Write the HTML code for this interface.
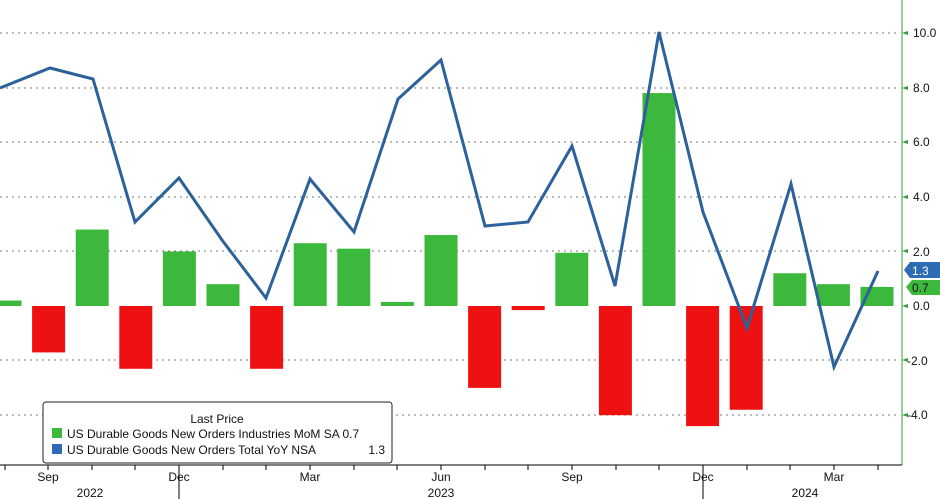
<!DOCTYPE html>
<html><head><style>
body{margin:0;background:#fff;}
svg{display:block;font-family:"Liberation Sans",sans-serif;}
</style></head><body>
<svg width="940" height="499" viewBox="0 0 940 499">
<g stroke="#777" stroke-dasharray="2,4" stroke-width="1">
<line x1="0" x2="900" y1="33" y2="33"/><line x1="0" x2="900" y1="88" y2="88"/>
<line x1="0" x2="900" y1="142" y2="142"/><line x1="0" x2="900" y1="197" y2="197"/>
<line x1="0" x2="900" y1="251" y2="251"/><line x1="0" x2="900" y1="360" y2="360"/>
<line x1="0" x2="900" y1="415" y2="415"/>
</g>
<g id="bars"></g>
<polyline fill="none" stroke="#2d6199" stroke-width="3" stroke-linejoin="miter" points="0,88 50,68 93,79 135,222 179,178 222,240 266,298 310,179 354,232 398,99 441,60 485,226 528,222 572,146 615,286 659,32 703,212 747,328 791,184 834,367 878,271"/>
<line x1="902" y1="0" x2="902" y2="465" stroke="#3a9a3a" stroke-width="1"/>
<line x1="0" y1="465" x2="902" y2="465" stroke="#000" stroke-width="1"/>
<g font-size="12" fill="#111">
<text x="913" y="37">10.0</text><text x="913" y="92">8.0</text><text x="913" y="146">6.0</text>
<text x="913" y="201">4.0</text><text x="913" y="256">2.0</text><text x="913" y="310">0.0</text>
<text x="907" y="365">-2.0</text><text x="907" y="419">-4.0</text>
</g>
<g fill="#3a9a3a">
<polygon points="902,33 908,31 908,35"/><polygon points="902,88 908,86 908,90"/><polygon points="902,142 908,140 908,144"/>
<polygon points="902,197 908,195 908,199"/><polygon points="902,251 908,249 908,253"/><polygon points="902,306 908,304 908,308"/>
<polygon points="902,360 908,358 908,362"/><polygon points="902,415 908,413 908,417"/>
</g>
<polygon points="904,270 910,262 940,262 940,278 910,278" fill="#2d6bb5"/>
<text x="912" y="275" font-size="12" fill="#fff">1.3</text>
<polygon points="906,287 912,280 940,280 940,295 912,295" fill="#3cb93c"/>
<text x="912" y="292" font-size="12" fill="#111">0.7</text>
<g stroke="#000">
<line x1="5" y1="465" x2="5" y2="470"/><line x1="48" y1="465" x2="48" y2="470"/><line x1="92" y1="465" x2="92" y2="470"/>
<line x1="135" y1="465" x2="135" y2="470"/><line x1="179" y1="465" x2="179" y2="499"/><line x1="223" y1="465" x2="223" y2="470"/>
<line x1="266" y1="465" x2="266" y2="470"/><line x1="310" y1="465" x2="310" y2="470"/><line x1="354" y1="465" x2="354" y2="470"/>
<line x1="397" y1="465" x2="397" y2="470"/><line x1="441" y1="465" x2="441" y2="470"/><line x1="485" y1="465" x2="485" y2="470"/>
<line x1="528" y1="465" x2="528" y2="470"/><line x1="572" y1="465" x2="572" y2="470"/><line x1="616" y1="465" x2="616" y2="470"/>
<line x1="659" y1="465" x2="659" y2="470"/><line x1="703" y1="465" x2="703" y2="499"/><line x1="747" y1="465" x2="747" y2="470"/>
<line x1="790" y1="465" x2="790" y2="470"/><line x1="834" y1="465" x2="834" y2="470"/><line x1="878" y1="465" x2="878" y2="470"/>
</g>
<g font-size="12" fill="#111" text-anchor="middle">
<text x="48" y="481">Sep</text><text x="179" y="481">Dec</text><text x="310" y="481">Mar</text><text x="441" y="481">Jun</text>
<text x="572" y="481">Sep</text><text x="703" y="481">Dec</text><text x="834" y="481">Mar</text>
<text x="90" y="497">2022</text><text x="441" y="497">2023</text><text x="805" y="497">2024</text>
</g>
<rect x="43" y="402" width="349" height="61" rx="3" fill="#fff" stroke="#222"/>
<text x="217" y="423" font-size="12" text-anchor="middle" fill="#111">Last Price</text>
<rect x="52" y="428" width="10" height="10" fill="#3cb93c"/>
<rect x="52" y="444" width="10" height="10" fill="#2d6bb5"/>
<text x="67" y="438" font-size="12" fill="#111">US Durable Goods New Orders Industries MoM SA 0.7</text>
<text x="67" y="454" font-size="12" fill="#111">US Durable Goods New Orders Total YoY NSA</text>
<text x="385" y="454" font-size="12" fill="#111" text-anchor="end">1.3</text>
</svg>
<script>
var v=[0.2,-1.7,2.8,-2.3,2.0,0.8,-2.3,2.3,2.1,0.15,2.6,-3.0,-0.15,1.95,-4.0,7.8,-4.4,-3.8,1.2,0.8,0.7];
var g=document.getElementById('bars'),s='';
for(var i=0;i<v.length;i++){var c=5+43.6*i,h=Math.abs(v[i])*27.3,y=v[i]>0?306-h:306;
s+='<rect x="'+(c-16.5)+'" y="'+y+'" width="33" height="'+h+'" fill="'+(v[i]>0?'#3cb93c':'#ee1111')+'"/>';}
g.innerHTML=s;
</script>
</body></html>
